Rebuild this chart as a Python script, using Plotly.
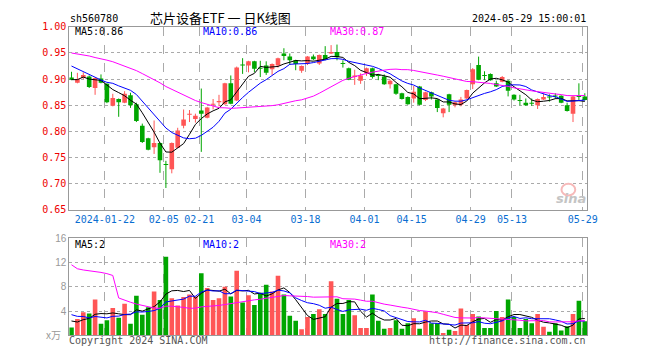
import plotly.graph_objects as go
import pandas as pd

# ---------------- data ----------------
dates = ("01-12 01-15 01-16 01-17 01-18 01-19 01-22 01-23 01-24 01-25 01-26 01-29 01-30 01-31 "
         "02-01 02-02 02-05 02-06 02-07 02-08 02-19 02-20 02-21 02-22 02-23 02-26 02-27 02-28 02-29 "
         "03-01 03-04 03-05 03-06 03-07 03-08 03-11 03-12 03-13 03-14 03-15 03-18 03-19 03-20 03-21 "
         "03-22 03-25 03-26 03-27 03-28 03-29 "
         "04-01 04-02 04-03 04-08 04-09 04-10 04-11 04-12 04-15 04-16 04-17 04-18 04-19 04-22 04-23 "
         "04-24 04-25 04-26 04-29 04-30 "
         "05-06 05-07 05-08 05-09 05-10 05-13 05-14 05-15 05-16 05-17 05-20 05-21 05-22 05-23 05-24 "
         "05-27 05-28 05-29").split()

open_ = [0.903, 0.893, 0.902, 0.905, 0.883, 0.901, 0.891, 0.849, 0.862, 0.855,
         0.869, 0.852, 0.811, 0.787, 0.770, 0.778, 0.737, 0.728, 0.769, 0.811,
         0.832, 0.824, 0.840, 0.826, 0.851, 0.856, 0.852, 0.892, 0.859, 0.927,
         0.926, 0.934, 0.921, 0.926, 0.919, 0.926, 0.949, 0.943, 0.936, 0.916,
         0.930, 0.943, 0.930, 0.946, 0.949, 0.952, 0.930, 0.921, 0.904, 0.897,
         0.911, 0.921, 0.907, 0.905, 0.890, 0.890, 0.873, 0.866, 0.863, 0.886,
         0.860, 0.875, 0.861, 0.835, 0.871, 0.850, 0.851, 0.863, 0.890, 0.927,
         0.907, 0.910, 0.892, 0.895, 0.897, 0.870, 0.859, 0.855, 0.854, 0.850,
         0.861, 0.866, 0.868, 0.868, 0.850, 0.834, 0.868, 0.867]
high = [0.914, 0.912, 0.913, 0.907, 0.903, 0.909, 0.892, 0.872, 0.863, 0.877,
        0.874, 0.855, 0.815, 0.788, 0.821, 0.779, 0.744, 0.779, 0.807, 0.842,
        0.841, 0.834, 0.882, 0.847, 0.862, 0.870, 0.893, 0.907, 0.924, 0.940,
        0.935, 0.935, 0.935, 0.934, 0.930, 0.941, 0.959, 0.949, 0.937, 0.926,
        0.944, 0.947, 0.947, 0.963, 0.965, 0.966, 0.936, 0.922, 0.918, 0.911,
        0.922, 0.922, 0.910, 0.909, 0.899, 0.891, 0.874, 0.867, 0.887, 0.887,
        0.876, 0.876, 0.862, 0.845, 0.872, 0.857, 0.866, 0.880, 0.921, 0.943,
        0.915, 0.911, 0.897, 0.906, 0.898, 0.871, 0.870, 0.863, 0.863, 0.863,
        0.872, 0.871, 0.873, 0.869, 0.855, 0.868, 0.892, 0.873]
low = [0.898, 0.892, 0.900, 0.883, 0.870, 0.892, 0.854, 0.848, 0.828, 0.854,
       0.845, 0.818, 0.778, 0.764, 0.757, 0.721, 0.692, 0.720, 0.768, 0.806,
       0.818, 0.817, 0.761, 0.825, 0.842, 0.848, 0.851, 0.852, 0.858, 0.910,
       0.913, 0.913, 0.904, 0.908, 0.908, 0.922, 0.936, 0.927, 0.917, 0.912,
       0.927, 0.936, 0.927, 0.936, 0.948, 0.936, 0.922, 0.898, 0.889, 0.891,
       0.906, 0.901, 0.898, 0.889, 0.882, 0.870, 0.861, 0.851, 0.855, 0.850,
       0.858, 0.861, 0.837, 0.827, 0.837, 0.846, 0.848, 0.862, 0.881, 0.898,
       0.898, 0.897, 0.885, 0.894, 0.867, 0.859, 0.850, 0.849, 0.849, 0.843,
       0.860, 0.857, 0.862, 0.854, 0.838, 0.818, 0.860, 0.859]
close = [0.899, 0.900, 0.908, 0.885, 0.902, 0.893, 0.856, 0.864, 0.856, 0.872,
         0.850, 0.820, 0.780, 0.765, 0.778, 0.745, 0.736, 0.778, 0.802, 0.823,
         0.834, 0.830, 0.834, 0.846, 0.853, 0.858, 0.892, 0.853, 0.922, 0.926,
         0.934, 0.920, 0.920, 0.912, 0.929, 0.940, 0.944, 0.936, 0.929, 0.925,
         0.943, 0.938, 0.946, 0.938, 0.952, 0.942, 0.929, 0.899, 0.907, 0.907,
         0.921, 0.904, 0.906, 0.890, 0.897, 0.872, 0.862, 0.852, 0.876, 0.851,
         0.875, 0.867, 0.845, 0.844, 0.851, 0.856, 0.861, 0.879, 0.919, 0.899,
         0.906, 0.898, 0.886, 0.904, 0.878, 0.861, 0.858, 0.850, 0.853, 0.862,
         0.866, 0.865, 0.867, 0.855, 0.839, 0.867, 0.866, 0.860]
volume = [1.3, 2.7, 3.8, 3.6, 5.9, 1.9, 2.5, 4.5, 2.9, 5.2,
          1.9, 6.5, 3.4, 4.6, 7.2, 5.8, 12.9, 6.1, 4.9, 6.3,
          6.7, 6.4, 10.2, 7.8, 5.8, 6.1, 8.0, 6.4, 10.6, 5.4,
          6.6, 5.0, 7.0, 8.3, 7.2, 9.8, 6.7, 3.2, 2.4, 1.0,
          3.0, 3.5, 4.3, 3.5, 8.9, 6.0, 3.5, 5.8, 3.3, 1.2,
          1.2, 6.7, 2.4, 1.1, 1.2, 2.5, 1.1, 2.0, 2.8, 1.1,
          3.9, 2.0, 2.0, 0.4, 0.9, 0.7, 4.4, 1.7, 3.5, 3.1,
          1.2, 1.2, 4.0, 3.0, 5.9, 3.0, 1.2, 2.7, 2.0, 3.5,
          1.4, 0.6, 2.0, 0.8, 1.5, 3.5, 5.7, 2.3]
# sessions before the visible window (only feed the moving averages)
pre_close = [0.950, 0.968, 0.945, 0.992, 0.953, 0.946, 0.954, 0.976, 0.992, 0.970,
             0.970, 0.950, 0.935, 0.958, 0.925, 0.946, 0.948, 0.952, 1.003, 1.014,
             0.955, 0.950, 0.948, 0.952, 0.950, 0.900, 0.883, 0.905, 0.908]
pre_volume = [22.4, 9.8, 6.6, 10.4, 6.4, 8.5, 13.5, 113.9, 17.2, 10.9,
              15.5, 9.4, 13.6, 11.7, 7.3, 2.4, 6.1, 6.4, 10.8, 11.2,
              5.5, 4.0, 6.0, 3.5, 3.2, 3.55, 1.85, 2.6, 2.5]
tick_dates = ["01-22", "02-05", "02-21", "03-04", "03-18", "04-01", "04-15", "04-29", "05-13", "05-29"]
tick_text = ["2024-01-22", "02-05", "02-21", "03-04", "03-18", "04-01", "04-15", "04-29", "05-13", "05-29"]
ma_periods = [5, 10, 30]

# ---------------- styling ----------------
RED = "#ff5656"
GREEN = "#00a600"
MA_COLORS = {5: "#000000", 10: "#0000ff", 30: "#ff00ff"}
MONO = "DejaVu Sans Mono"
W, H = 660, 360

n = len(close)
idx = list(range(1, n + 1))
up = [c >= o for o, c in zip(open_, close)]
colors = [RED if u else GREEN for u in up]

full_close = pd.Series(pre_close + close)
full_vol = pd.Series(pre_volume + volume)
ma_price = {p: full_close.rolling(p).mean().tolist()[-n:] for p in ma_periods}
ma_vol = {p: full_vol.rolling(p).mean().tolist()[-n:] for p in ma_periods}

fig = go.Figure()

# wicks
for col, flag in ((RED, True), (GREEN, False)):
    wx, wy = [], []
    for i in range(n):
        if up[i] == flag:
            wx += [idx[i], idx[i], None]
            wy += [low[i], high[i], None]
    fig.add_trace(go.Scatter(x=wx, y=wy, mode="lines", line=dict(color=col, width=1),
                             hoverinfo="skip", showlegend=False, xaxis="x", yaxis="y"))

# bodies
body_base = [min(o, c) for o, c in zip(open_, close)]
body_h = [max(abs(c - o), 0.0019) for o, c in zip(open_, close)]
fig.add_trace(go.Bar(x=idx, y=body_h, base=body_base, width=0.78,
                     marker=dict(color=colors, line=dict(width=0)),
                     showlegend=False, xaxis="x", yaxis="y"))

for p in ma_periods:
    fig.add_trace(go.Scatter(x=idx, y=ma_price[p], mode="lines",
                             line=dict(color=MA_COLORS[p], width=1),
                             showlegend=False, xaxis="x", yaxis="y"))

# volume
fig.add_trace(go.Bar(x=idx, y=volume, width=0.78,
                     marker=dict(color=colors, line=dict(width=0)),
                     showlegend=False, xaxis="x2", yaxis="y2"))
for p in ma_periods:
    fig.add_trace(go.Scatter(x=idx, y=ma_vol[p], mode="lines",
                             line=dict(color=MA_COLORS[p], width=1),
                             showlegend=False, xaxis="x2", yaxis="y2"))

tickvals = [dates.index(d) + 1 - 0.35 for d in tick_dates]
x_dom = [70.5 / W, 597 / W]
x_rng = [0.633, 88.38]
common_x = dict(domain=x_dom, range=x_rng, tickvals=tickvals, showgrid=True,
                gridcolor="#aaaaaa", griddash="dash", gridwidth=1,
                showline=True, linecolor="#999999", linewidth=1, mirror=True,
                ticks="", zeroline=False, fixedrange=True)

fig.update_layout(
    width=W, height=H, margin=dict(l=0, r=0, t=0, b=0),
    paper_bgcolor="white", plot_bgcolor="white", barmode="overlay",
    showlegend=False, hovermode=False,
    xaxis=dict(**common_x, anchor="y", ticktext=tick_text, showticklabels=True,
               tickfont=dict(family=MONO, size=10, color="#0a6ed1")),
    yaxis=dict(domain=[1 - 211 / H, 1 - 21.5 / H], range=[0.65, 1.00], tick0=0.65, dtick=0.05,
               tickformat=".2f", showgrid=True, gridcolor="#aaaaaa", griddash="dot",
               showline=True, linecolor="#999999", mirror=True, ticks="", zeroline=False,
               fixedrange=True,
               tickfont=dict(family=MONO, size=10, color="#ee0000"), anchor="x"),
    xaxis2=dict(**common_x, anchor="y2", matches="x", showticklabels=False),
    yaxis2=dict(domain=[1 - 340.7 / H, 1 - 240 / H], range=[0, 16], tickvals=[4, 8, 12, 16],
                showgrid=True, gridcolor="#aaaaaa", griddash="dot",
                showline=True, linecolor="#999999", mirror=True, ticks="", zeroline=False,
                fixedrange=True,
                tickfont=dict(family="Liberation Sans", size=10, color="#999999"), anchor="x2"),
)


def txt(text, xpx, ypx, color="#000000", size=10, anchor="left", family=MONO, **kw):
    fig.add_annotation(text=text, x=xpx / W, y=1 - ypx / H, xref="paper", yref="paper",
                       xanchor=anchor, yanchor="middle", showarrow=False,
                       font=dict(family=family, size=size, color=color, **kw))


txt("sh560780", 69, 13)
txt("芯片设备ETF 一 日K线图", 224, 11.5, size=13, anchor="center", family="Noto Sans CJK SC")
txt("2024-05-29 15:00:01", 598, 13, anchor="right")
txt("MA5:0.86", 74, 26.5)
txt("MA10:0.86", 204, 26.5, color="#0000ff")
txt("MA30:0.87", 334, 26.5, color="#ff00ff")
txt("MA5:2", 74, 246.5)
txt("MA10:2", 204, 246.5, color="#0000ff")
txt("MA30:2", 334, 246.5, color="#ff00ff")
txt("x万", 64, 340, color="#999999", anchor="right", family="Noto Sans CJK SC", size=10)
txt("Copyright 2024 SINA.COM", 68, 346, color="#555555")
txt("http://finance.sina.com.cn", 598, 346, color="#555555", anchor="right")

# faint sina watermark
fig.add_shape(type="circle", xref="paper", yref="paper",
              x0=571 / W, x1=585 / W, y0=1 - 196 / H, y1=1 - 184 / H,
              line=dict(color="#f6b9b9", width=2))
txt("sina", 581, 199, color="#c4c4c4", size=13, anchor="center", family="DejaVu Sans",
    weight="bold", style="italic")

fig.write_html("out.html", config={"displayModeBar": False, "staticPlot": True},
               post_script="document.body.style.margin='0';document.body.style.overflow='hidden';")
